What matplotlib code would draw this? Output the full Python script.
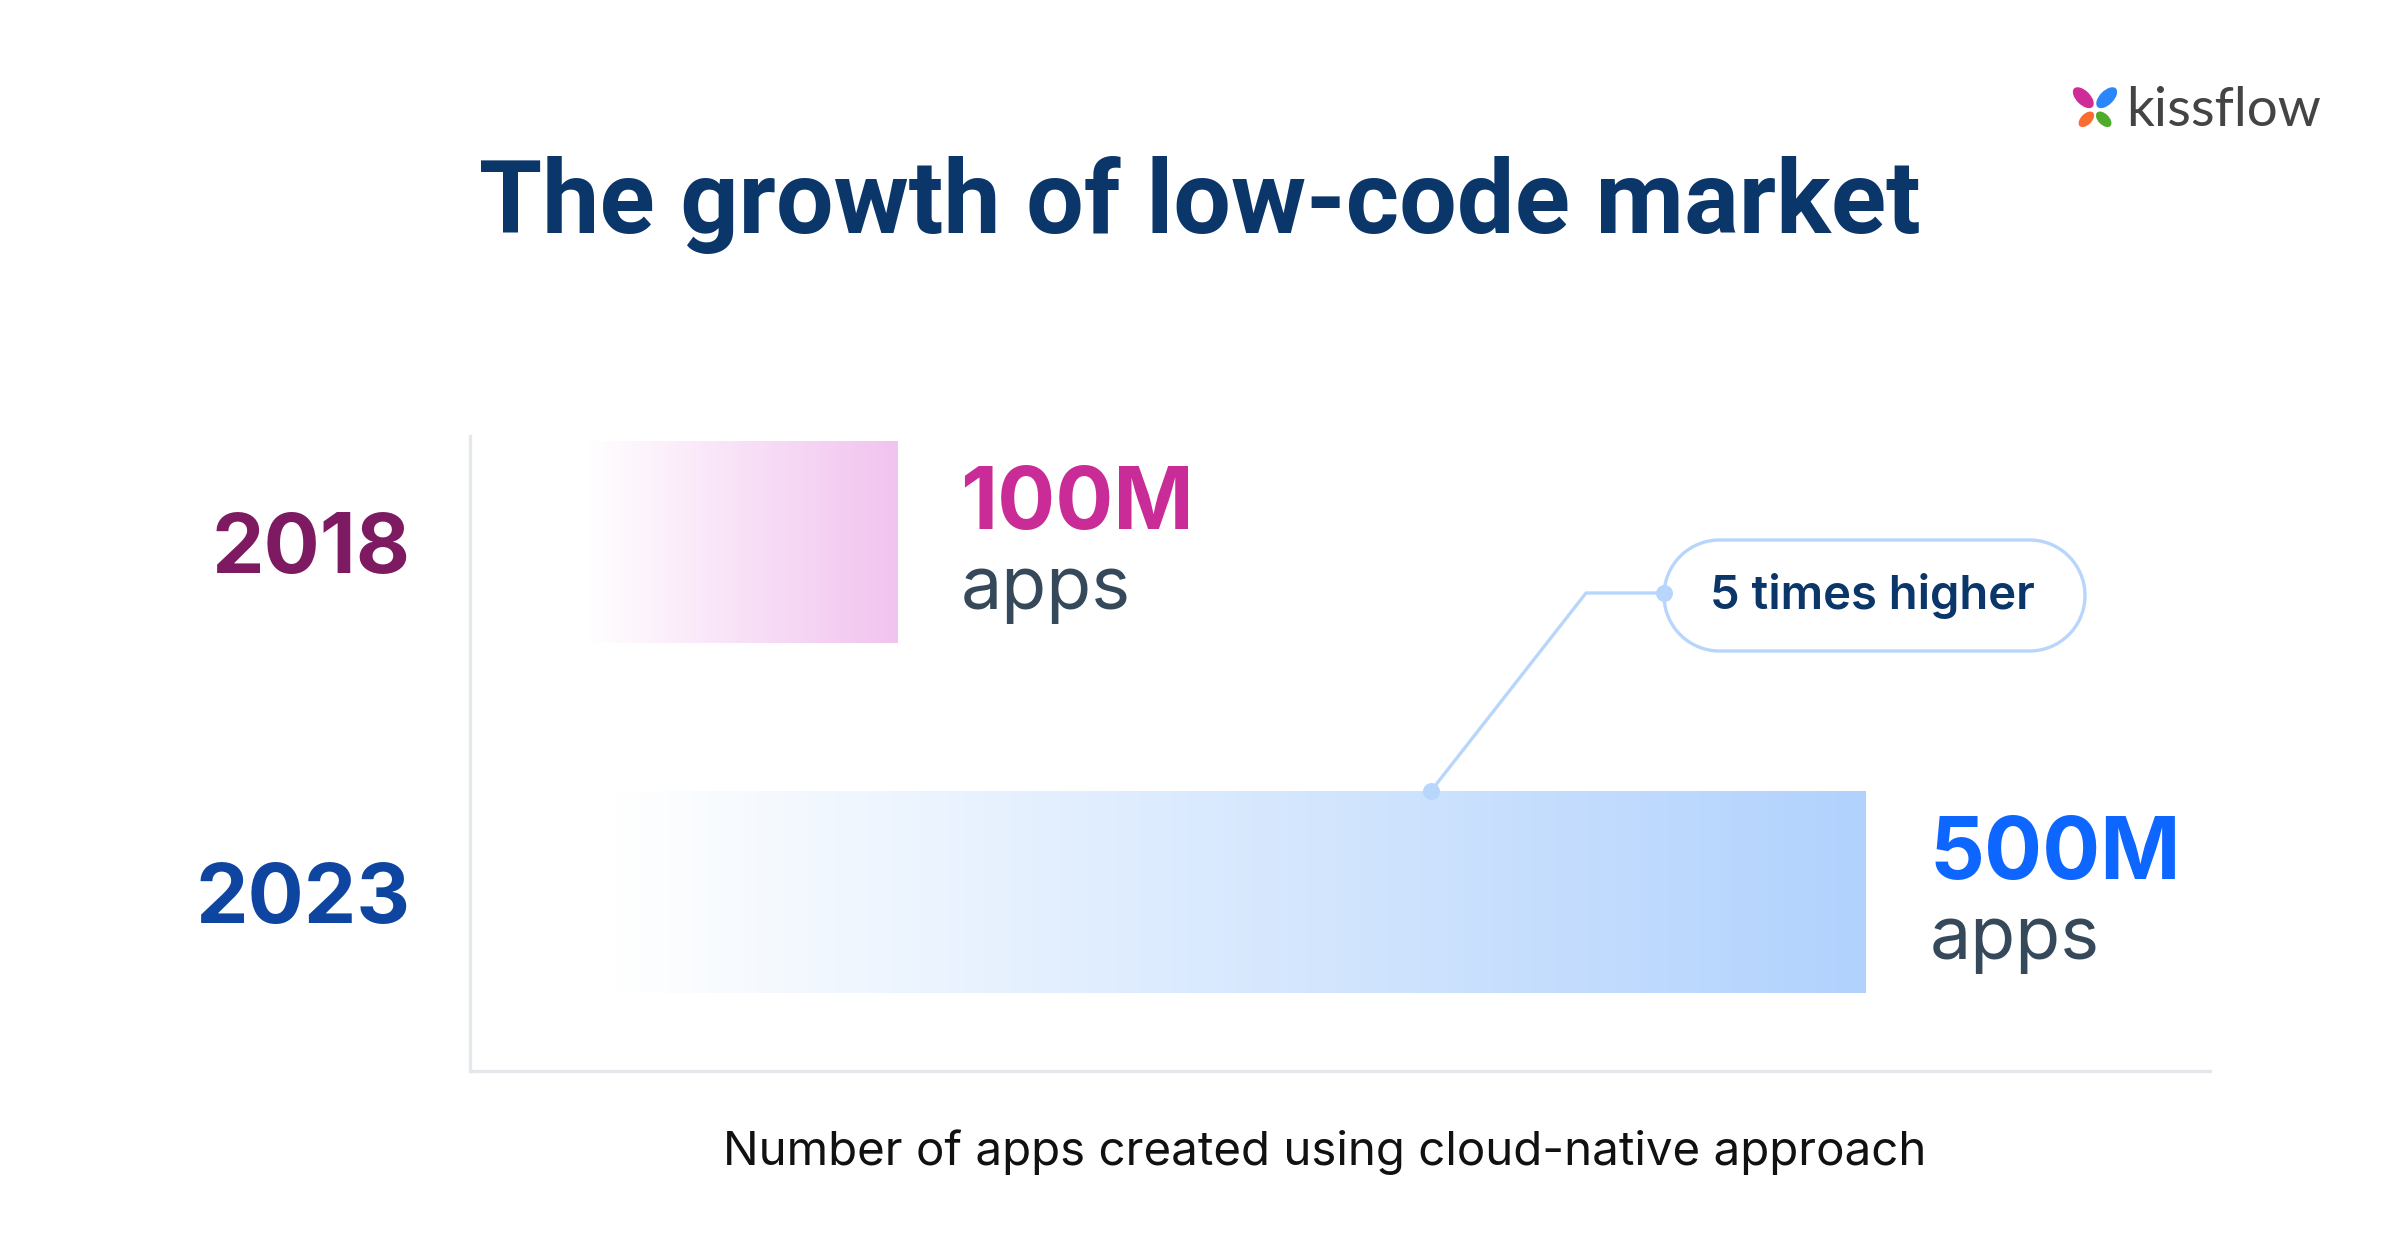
import numpy as np
import matplotlib
matplotlib.use('Agg')
import matplotlib.pyplot as plt
from matplotlib.colors import LinearSegmentedColormap
from matplotlib.patches import Ellipse, Polygon

years = ['2018', '2023']
apps_millions = [100, 500]
value_labels = ['100M', '500M']
bar_starts = [-28, -18]
year_colors = ['#7E1A62', '#0E45A0']
value_colors = ['#C92C97', '#0D66FF']
bar_colors = ['#F1C3EF', '#B1D2FD']

title = 'The growth of low-code market'
x_label = 'Number of apps created using cloud-native approach'
callout = '5 times higher'

W, H = 2400, 1260
plt.rcParams['font.family'] = ['Inter', 'DejaVu Sans']

fig = plt.figure(figsize=(W / 100, H / 100), dpi=100, facecolor='white')

# Main axes, placed in pixels
ax_l, ax_r, ax_t, ax_b = 470, 2210, 436, 1071
ax = fig.add_axes([ax_l / W, 1 - ax_b / H, (ax_r - ax_l) / W, (ax_b - ax_t) / H])

for s in ['top', 'right']:
    ax.spines[s].set_visible(False)
for s in ['left', 'bottom']:
    ax.spines[s].set_color('#E4E8EC')
    ax.spines[s].set_linewidth(2.4)

ax.set_xticks([])
ax.set_yticks(range(len(years)))
ax.set_yticklabels(years, fontsize=60, fontweight='bold')
ax.tick_params(axis='y', length=0, pad=42.5)
for lab, c in zip(ax.get_yticklabels(), year_colors):
    lab.set_color(c)

# Bars with a fade from white on the left
bar_h = 0.577
for i in range(len(years)):
    bars = ax.barh(i, apps_millions[i] - bar_starts[i], left=bar_starts[i],
                   height=bar_h, color='none', linewidth=0)
    cmap = LinearSegmentedColormap.from_list('fade', ['white', bar_colors[i]])
    img = ax.imshow(np.linspace(0, 1, 256).reshape(1, -1), cmap=cmap, aspect='auto',
                    extent=(bar_starts[i], apps_millions[i], i + bar_h / 2, i - bar_h / 2),
                    zorder=2)
    img.set_clip_path(bars[0])

    ax.annotate(value_labels[i], (apps_millions[i], i), xytext=(45.5, 25.5),
                textcoords='offset points', ha='left', va='center',
                fontsize=62, fontweight='bold', color=value_colors[i])
    ax.annotate('apps', (apps_millions[i], i), xytext=(46, -34),
                textcoords='offset points', ha='left', va='center',
                fontsize=53, color='#35495A')

ax.set_xlim(-76.3, 642)
ax.set_ylim(1.511, -0.303)

# Overlay in pixel coordinates for title, callout and logo
ov = fig.add_axes([0, 0, 1, 1], facecolor='none')
ov.set_xlim(0, W)
ov.set_ylim(H, 0)
ov.axis('off')

ov.text(1200, 233, title, ha='center', va='baseline', fontsize=73.6, fontweight='bold',
        family='Roboto', color='#0B3669')
ov.text(1325, 1152, x_label, ha='center', va='center', fontsize=34.2, color='#111111')

# Callout
line_c = '#B8D6FB'
ov.plot([1431, 1586, 1664], [791, 593, 593], color=line_c, linewidth=2.4)

pill_x0, pill_x1, pill_y0, pill_y1 = 1664, 2085, 540, 651
r = (pill_y1 - pill_y0) / 2
t = np.linspace(-np.pi / 2, np.pi / 2, 60)
cy = (pill_y0 + pill_y1) / 2
right_end = np.column_stack([pill_x1 - r + r * np.cos(t), cy + r * np.sin(t)])
left_end = np.column_stack([pill_x0 + r - r * np.cos(t), cy - r * np.sin(t)])
ov.add_patch(Polygon(np.vstack([right_end, left_end]), closed=True, facecolor='white',
                     edgecolor=line_c, linewidth=2.4, zorder=3))
ov.scatter([1431, 1664], [791, 593], s=150, color=line_c, zorder=4, linewidths=0)
ov.text(1872, 596, callout, ha='center', va='center', fontsize=34, fontweight='semibold',
        color='#0B3669', zorder=5)

# Logo
petals = [(2083.3, 97.7, 26, 14, 45, '#CF2C97'), (2106.7, 97.7, 26, 14, -45, '#2C86FB'),
          (2086.4, 119.3, 19, 11, -45, '#FB6C32'), (2103.7, 119.3, 19, 11, 45, '#4FAB2A')]
for x, y, w, h, ang, c in petals:
    ov.add_patch(Ellipse((x, y), w, h, angle=ang, facecolor=c, edgecolor='none'))
ov.text(2126, 126, 'kissflow', ha='left', va='baseline', fontsize=39.5, family='Lato',
        color='#444444')

fig.savefig('out.png', dpi=100, facecolor='white')
